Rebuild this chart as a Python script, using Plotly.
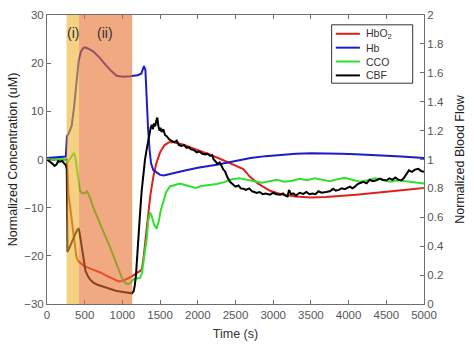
import plotly.graph_objects as go

# ---------------- data ----------------
t_hbo2 = [0,100,200,265,275,285,300,330,360,390,420,500,600,700,800,900,950,1000,1100,1200,1256,1280,1310,1344,1370,1410,1450,1500,1560,1620,1680,1800,2000,2162,2300,2450,2604,2692,2800,2958,3100,3300,3500,3700,3900,4100,4300,4500,4700,4900,5000]
c_hbo2 = [0,0,0,0,-4,-7.5,-9,-13,-17.5,-20.3,-21.2,-22.2,-22.8,-23.4,-24.2,-25.0,-25.3,-25.2,-24.5,-23.5,-22.9,-20.5,-16,-11.4,-7.5,-3.6,-0.8,1.5,3.0,3.6,3.6,3.1,2.0,1.0,0.1,-0.9,-2.0,-3.6,-5.0,-6.5,-7.2,-7.7,-7.9,-7.8,-7.6,-7.3,-7.0,-6.7,-6.4,-6.0,-5.9]

t_hb = [0,100,200,250,258,265,290,327,360,393,420,450,480,504,550,615,700,780,850,924,1000,1100,1200,1250,1270,1286,1305,1320,1340,1360,1380,1410,1450,1500,1550,1650,1800,2000,2250,2500,2700,2900,3100,3300,3500,3700,3900,4100,4300,4500,4700,4900,5000]
c_hb = [0.3,0.4,0.5,0.6,3.0,4.8,5.5,7,11,17,20.5,22.4,23.1,23.3,23.0,22.4,21.1,19.6,18.4,17.4,17.2,17.3,17.5,17.8,18.8,19.4,18.6,12.5,6.5,2.1,-0.8,-2.2,-2.6,-3.2,-3.3,-3.0,-2.4,-1.7,-1.1,-0.3,0.3,0.7,1.0,1.2,1.3,1.3,1.2,1.1,1.0,0.8,0.6,0.4,0.3]

t_cco = [0,100,200,250,280,300,320,340,358,375,393,415,438,470,504,530,560,615,660,703,770,836,890,946,980,1012,1045,1078,1110,1145,1190,1233,1260,1290,1322,1345,1366,1390,1420,1454,1480,1510,1542,1580,1630,1700,1764,1830,1900,1970,2050,2150,2250,2350,2450,2550,2650,2750,2850,2950,3050,3150,3250,3350,3450,3550,3650,3750,3850,3950,4050,4150,4250,4350,4450,4550,4650,4750,4850,4950,5000]
c_cco = [0.1,-0.1,0.1,-0.3,-0.4,0,0.6,1.0,1.4,0.5,-1.5,-4.5,-6.6,-7.0,-7.0,-6.6,-7.5,-10,-11.8,-13.4,-15.8,-18.2,-20.5,-22.9,-24.3,-25.3,-25.7,-25.9,-25.6,-24.9,-24.7,-24.6,-23.5,-20.5,-16.5,-12.5,-11.0,-11.8,-13.5,-14.4,-13.0,-10.5,-8.7,-6.8,-5.6,-5.2,-5.0,-5.3,-5.6,-5.9,-5.5,-5.3,-5.1,-4.7,-4.1,-3.9,-4.2,-4.5,-4.8,-4.5,-4.2,-4.6,-4.4,-4.0,-4.3,-3.9,-4.2,-4.5,-4.1,-3.8,-4.2,-4.6,-4.3,-3.9,-4.2,-4.6,-4.3,-4.5,-4.8,-4.9,-5.0]

t_cbf = [0,25,50,75,100,125,150,175,200,225,250,262,268,272,290,320,350,380,400,415,430,450,470,490,510,540,570,610,660,720,790,860,924,990,1057,1100,1125,1150,1165,1180,1195,1210,1233,1255,1278,1300,1322,1340,1357,1375,1390,1405,1420,1435,1450,1463,1475,1490,1505,1520,1543,1565,1590,1620,1654,1690,1720,1750,1786,1820,1850,1880,1910,1950,1985,2020,2060,2100,2130,2162,2190,2210,2230,2260,2290,2317,2340,2360,2390,2427,2460,2500,2540,2570,2604,2640,2680,2720,2750,2781,2820,2860,2900,2958,3000,3040,3090,3130,3160,3190,3210,3235,3270,3300,3350,3400,3440,3480,3520,3560,3600,3640,3700,3750,3797,3830,3870,3910,3950,4018,4050,4080,4120,4160,4195,4240,4280,4320,4360,4416,4450,4500,4540,4580,4620,4660,4700,4730,4770,4800,4840,4880,4925,4960,5000]
cbf = [1.00,0.99,0.985,0.97,0.955,0.965,0.99,0.985,0.99,0.975,0.96,0.93,0.6,0.36,0.38,0.42,0.46,0.49,0.51,0.525,0.50,0.43,0.34,0.28,0.23,0.195,0.17,0.15,0.135,0.125,0.113,0.1,0.09,0.085,0.079,0.076,0.074,0.09,0.13,0.2,0.3,0.43,0.62,0.78,0.91,1.0,1.07,1.13,1.18,1.22,1.24,1.21,1.25,1.23,1.27,1.29,1.24,1.2,1.22,1.19,1.21,1.17,1.16,1.14,1.128,1.12,1.13,1.1,1.094,1.1,1.08,1.085,1.07,1.065,1.05,1.055,1.04,1.035,1.04,1.025,1.03,1.0,0.99,0.97,0.98,0.947,0.93,0.92,0.88,0.846,0.83,0.812,0.82,0.80,0.797,0.79,0.8,0.78,0.775,0.768,0.775,0.76,0.765,0.757,0.77,0.76,0.757,0.765,0.75,0.745,0.79,0.76,0.765,0.75,0.77,0.762,0.775,0.76,0.765,0.76,0.78,0.77,0.775,0.78,0.797,0.785,0.79,0.8,0.795,0.812,0.8,0.81,0.83,0.84,0.846,0.835,0.86,0.85,0.855,0.868,0.86,0.855,0.87,0.86,0.875,0.86,0.855,0.87,0.902,0.925,0.915,0.93,0.936,0.92,0.915]

series_names = ["HbO<sub>2</sub>", "Hb", "CCO", "CBF"]
series_colors = ["#e0201b", "#1c1cc8", "#2fe02f", "#000000"]

phase_i = [260, 425]
phase_ii = [425, 1130]
phase_labels = ["(i)", "(ii)"]
label_x = [345, 770]

FONT = "Liberation Sans, Arial, sans-serif"

fig = go.Figure()
fig.add_trace(go.Scatter(x=t_hbo2, y=c_hbo2, mode="lines", name=series_names[0],
                         line=dict(color=series_colors[0], width=2)))
fig.add_trace(go.Scatter(x=t_hb, y=c_hb, mode="lines", name=series_names[1],
                         line=dict(color=series_colors[1], width=2)))
fig.add_trace(go.Scatter(x=t_cco, y=c_cco, mode="lines", name=series_names[2],
                         line=dict(color=series_colors[2], width=2)))
fig.add_trace(go.Scatter(x=t_cbf, y=cbf, mode="lines", name=series_names[3], yaxis="y2",
                         line=dict(color=series_colors[3], width=2)))

fig.add_shape(type="rect", xref="x", yref="paper", x0=phase_i[0], x1=phase_i[1], y0=0, y1=1,
              fillcolor="rgba(236,180,45,0.6)", line_width=0, layer="above")
fig.add_shape(type="rect", xref="x", yref="paper", x0=phase_ii[0], x1=phase_ii[1], y0=0, y1=1,
              fillcolor="rgba(232,112,45,0.6)", line_width=0, layer="above")

for lx, lab in zip(label_x, phase_labels):
    fig.add_annotation(x=lx, y=26.2, xref="x", yref="y", text=lab, showarrow=False,
                       font=dict(family=FONT, size=14, color="#333333"))

# compact legend box (MATLAB style)
lg_x0, lg_x1, lg_y0, lg_y1 = 0.755, 0.970, 0.764, 0.966
fig.add_shape(type="rect", xref="paper", yref="paper", x0=lg_x0, x1=lg_x1, y0=lg_y0, y1=lg_y1,
              fillcolor="white", line=dict(color="#333333", width=1), layer="above")
entry_y = [0.935, 0.887, 0.839, 0.791]
for nm, col, ey in zip(series_names, series_colors, entry_y):
    fig.add_shape(type="line", xref="paper", yref="paper", x0=0.766, x1=0.830, y0=ey, y1=ey,
                  line=dict(color=col, width=2), layer="above")
    fig.add_annotation(x=0.840, y=ey, xref="paper", yref="paper", text=nm, showarrow=False,
                       xanchor="left", yanchor="middle",
                       font=dict(family=FONT, size=10.5, color="#333333"))

axis_common = dict(showline=True, linecolor="#6e6e6e", linewidth=1, ticks="inside",
                   tickcolor="#6e6e6e", ticklen=4, showgrid=False, zeroline=False,
                   tickfont=dict(family=FONT, size=11.5, color="#555555"))

fig.update_layout(
    width=474, height=348,
    margin=dict(l=47, r=50, t=9, b=43),
    paper_bgcolor="white", plot_bgcolor="white",
    font=dict(family=FONT, size=11, color="#333333"),
    xaxis=dict(range=[0, 5000], dtick=500, mirror="ticks",
               title=dict(text="Time (s)", standoff=9,
                          font=dict(family=FONT, size=12.5, color="#333333")),
               **axis_common),
    yaxis=dict(range=[-30, 30], dtick=10,
               title=dict(text="Normalized Concentration (uM)", standoff=3,
                          font=dict(family=FONT, size=12.5, color="#222222")),
               **axis_common),
    yaxis2=dict(range=[0, 2], dtick=0.2, overlaying="y", side="right",
                title=dict(text="Normalized Blood Flow", standoff=12,
                           font=dict(family=FONT, size=12.5, color="#222222")),
                **axis_common),
    showlegend=False,
)

fig.write_html("out.html")
